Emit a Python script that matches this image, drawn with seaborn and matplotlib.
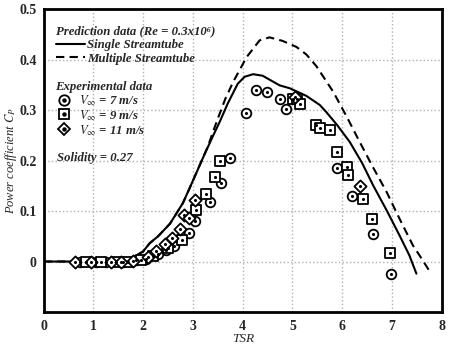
import numpy as np
import pandas as pd
import matplotlib
matplotlib.use("Agg")
import matplotlib.pyplot as plt
import seaborn as sns
from matplotlib.lines import Line2D
from matplotlib.legend_handler import HandlerTuple

# ---------------- data ----------------
single_tsr = [0, 0.5, 1.0, 1.5, 1.8, 2.0, 2.13, 2.3, 2.54, 2.8, 3.0, 3.2, 3.4, 3.54,
              3.7, 3.9, 4.04, 4.21, 4.4, 4.74, 4.95, 5.28, 5.55, 5.68, 5.9, 6.15,
              6.4, 6.62, 6.9, 7.15, 7.35, 7.49]
single_cp = [0, 0, 0, 0.002, 0.008, 0.02, 0.036, 0.05, 0.075, 0.116, 0.16, 0.205,
             0.248, 0.277, 0.313, 0.352, 0.366, 0.371, 0.368, 0.349, 0.343, 0.328,
             0.31, 0.296, 0.27, 0.237, 0.195, 0.151, 0.10, 0.052, 0.012, -0.024]

multi_tsr = [0, 0.5, 1.0, 1.5, 1.8, 2.0, 2.13, 2.3, 2.54, 2.8, 3.0, 3.2, 3.3, 3.47,
             3.65, 3.81, 4.08, 4.34, 4.54, 4.8, 5.08, 5.28, 5.48, 5.82, 6.1, 6.35,
             6.6, 6.89, 7.15, 7.42, 7.6, 7.76]
multi_cp = [0, 0, 0, 0.002, 0.008, 0.02, 0.036, 0.05, 0.075, 0.116, 0.16, 0.205,
            0.228, 0.275, 0.322, 0.356, 0.405, 0.438, 0.444, 0.437, 0.425, 0.41,
            0.387, 0.336, 0.285, 0.237, 0.19, 0.138, 0.085, 0.032, 0.005, -0.02]

v7_tsr = [0.73, 1.05, 1.25, 1.6, 1.85, 2.05, 2.3, 2.45, 2.62, 2.92, 3.05, 3.35, 3.57,
          3.75, 4.06, 4.26, 4.49, 4.75, 4.88, 5.89, 6.20, 6.61, 6.97]
v7_cp = [0.0, 0.0, 0.0, 0.0, 0.003, 0.005, 0.015, 0.022, 0.031, 0.057, 0.080, 0.117,
         0.156, 0.205, 0.294, 0.339, 0.336, 0.322, 0.303, 0.186, 0.130, 0.055, -0.025]

v9_tsr = [0.85, 1.15, 1.45, 1.7, 1.95, 2.2, 2.5, 2.78, 3.07, 3.26, 3.44, 3.55, 5.01,
          5.09, 5.15, 5.47, 5.55, 5.75, 5.90, 6.09, 6.12, 6.41, 6.60, 6.95]
v9_cp = [0.0, 0.0, 0.0, 0.0, 0.003, 0.01, 0.027, 0.042, 0.103, 0.133, 0.167, 0.199,
         0.322, 0.322, 0.311, 0.271, 0.265, 0.261, 0.217, 0.188, 0.172, 0.124, 0.085,
         0.016]

v11_tsr = [0.63, 0.95, 1.35, 1.55, 1.8, 2.1, 2.25, 2.44, 2.57, 2.74, 2.83, 2.92, 3.04,
           5.05, 6.36]
v11_cp = [0.0, 0.0, 0.0, 0.0, 0.002, 0.008, 0.02, 0.034, 0.046, 0.065, 0.092, 0.087,
          0.121, 0.325, 0.150]

x_ticks = [0, 1, 2, 3, 4, 5, 6, 7, 8]
y_ticks = [0, 0.1, 0.2, 0.3, 0.4, 0.5]
y_tick_labels = ["0", "0.1", "0.2", "0.3", "0.4", "0.5"]

# ---------------- style ----------------
sns.set_style("white")
plt.rcParams["font.family"] = ["Liberation Serif", "DejaVu Serif"]
plt.rcParams["mathtext.fontset"] = "stix"

fig = plt.figure(figsize=(4.74, 3.49), dpi=100)
ax = fig.add_axes([0.092, 0.106, 0.840, 0.868])

single = pd.DataFrame({"TSR": single_tsr, "Cp": single_cp})
multi = pd.DataFrame({"TSR": multi_tsr, "Cp": multi_cp})

sns.lineplot(data=single, x="TSR", y="Cp", ax=ax, color="black", lw=1.5,
             sort=False, estimator=None)
sns.lineplot(data=multi, x="TSR", y="Cp", ax=ax, color="black", lw=1.5,
             sort=False, estimator=None, linestyle=(0, (4, 2.5)))

ms = 48
for xs, ys, mk, s in [(v7_tsr, v7_cp, "o", ms), (v9_tsr, v9_cp, "s", ms),
                      (v11_tsr, v11_cp, "D", ms * 0.8)]:
    df = pd.DataFrame({"TSR": xs, "Cp": ys})
    sns.scatterplot(data=df, x="TSR", y="Cp", ax=ax, marker=mk, s=s,
                    facecolor="white", edgecolor="black", linewidth=1.3, zorder=3)
    sns.scatterplot(data=df, x="TSR", y="Cp", ax=ax, marker="o", s=5,
                    color="black", edgecolor="black", linewidth=0, zorder=4)

ax.set_xlim(0, 8)
ax.set_ylim(-0.1, 0.5)
ax.set_xticks(x_ticks)
ax.set_xticklabels([str(t) for t in x_ticks])
ax.set_yticks(y_ticks)
ax.set_yticklabels(y_tick_labels)
ax.tick_params(axis="x", length=0, labelsize=10, pad=6)
ax.tick_params(axis="y", length=0, labelsize=10, pad=5)
for lab in ax.get_xticklabels() + ax.get_yticklabels():
    lab.set_fontweight("bold")
ax.grid(True, linestyle=":", color="#b0b0b0", linewidth=1.0)
ax.set_axisbelow(True)
for sp in ax.spines.values():
    sp.set_linewidth(2.0)
    sp.set_color("black")

ax.set_xlabel("TSR", fontstyle="italic", fontsize=9.5, va="center")
ax.set_ylabel("Power coefficient $C_P$", fontstyle="italic", fontsize=9, va="center")
ax.xaxis.set_label_coords(0.5, -0.088)
ax.yaxis.set_label_coords(-0.082, 0.5)

leg_font = {"family": ["Liberation Serif", "DejaVu Serif"], "style": "italic",
            "weight": "bold", "size": 9.2}

h1 = [Line2D([], [], color="black", lw=1.5),
      Line2D([], [], color="black", lw=1.5, linestyle=(0, (4, 2.5)))]
leg1 = ax.legend(h1, ["Single Streamtube", "Multiple Streamtube"],
                 title="Prediction data (Re = 0.3x10\u2076)", loc="upper left",
                 bbox_to_anchor=(0.030, 0.945), frameon=False, prop=leg_font,
                 title_fontproperties=leg_font, alignment="left",
                 handlelength=2.3, handletextpad=0.15, labelspacing=0.12,
                 borderpad=0, borderaxespad=0)
ax.add_artist(leg1)

def mk_handle(m, size):
    return (Line2D([], [], marker=m, ms=size, mfc="white", mec="black", mew=1.3, ls=""),
            Line2D([], [], marker="o", ms=2.2, color="black", ls=""))

h2 = [mk_handle("o", 7.5), mk_handle("s", 7.5), mk_handle("D", 6.5)]
leg2 = ax.legend(h2, ["$V_\\infty$ = 7 m/s", "$V_\\infty$ = 9 m/s", "$V_\\infty$ = 11 m/s"],
                 title="Experimental data", loc="upper left",
                 bbox_to_anchor=(0.030, 0.762), frameon=False, prop=leg_font,
                 title_fontproperties=leg_font, alignment="left",
                 handler_map={tuple: HandlerTuple(ndivide=1)},
                 handlelength=1.3, handletextpad=0.5, labelspacing=0.0,
                 borderpad=0, borderaxespad=0)

ax.text(0.034, 0.508, "Solidity = 0.27", transform=ax.transAxes, va="center",
        ha="left", **{"fontfamily": ["Liberation Serif", "DejaVu Serif"],
                      "fontstyle": "italic", "fontweight": "bold", "fontsize": 9.2})

fig.savefig("out.png", dpi=100)
